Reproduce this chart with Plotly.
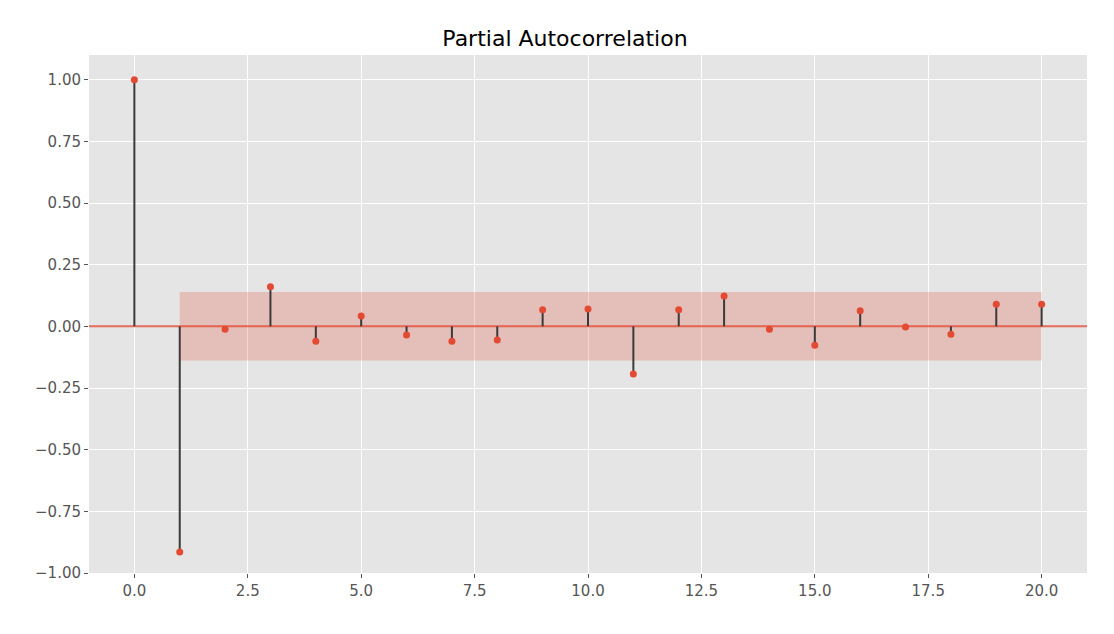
import plotly.graph_objects as go

# partial autocorrelation values, lags 0..20
lags = list(range(21))
pacf = [1.00, -0.915, -0.012, 0.160, -0.060, 0.042, -0.035, -0.060, -0.055,
        0.067, 0.070, -0.193, 0.067, 0.123, -0.012, -0.077, 0.063, -0.003,
        -0.032, 0.090, 0.090]
conf_half = 0.139  # half-width of the 95% band (lags 1..20)

RED = "#E24A33"

# stems: one line trace with gaps
stem_x, stem_y = [], []
for lag, v in zip(lags, pacf):
    stem_x += [lag, lag, None]
    stem_y += [0, v, None]

band_x = lags[1:]
fig = go.Figure()
fig.add_trace(go.Scatter(x=band_x, y=[-conf_half] * len(band_x), mode="lines",
                         line=dict(width=0), hoverinfo="skip", showlegend=False))
fig.add_trace(go.Scatter(x=band_x, y=[conf_half] * len(band_x), mode="lines",
                         line=dict(width=0), fill="tonexty",
                         fillcolor="rgba(226,74,51,0.25)", hoverinfo="skip",
                         showlegend=False))
fig.add_trace(go.Scatter(x=[-1, 21], y=[0, 0], mode="lines",
                         line=dict(color=RED, width=2), opacity=0.8,
                         hoverinfo="skip", showlegend=False))
fig.add_trace(go.Scatter(x=stem_x, y=stem_y, mode="lines",
                         line=dict(color="#3a3a3a", width=2),
                         hoverinfo="skip", showlegend=False))
fig.add_trace(go.Scatter(x=lags, y=pacf, mode="markers",
                         marker=dict(color=RED, size=7), showlegend=False))

axis_common = dict(showgrid=True, gridcolor="white", gridwidth=1, zeroline=False,
                   ticks="outside", ticklen=4, tickcolor="#555", showline=False,
                   tickfont=dict(family="DejaVu Sans", size=15, color="#555"))
# the page body adds an 8px offset, margins account for it
fig.update_layout(
    width=1114, height=634,
    title=dict(text="Partial Autocorrelation", x=0.5, xanchor="center",
               y=1 - 30 / 634, yanchor="middle",
               font=dict(family="DejaVu Sans", size=22, color="black")),
    plot_bgcolor="#E5E5E5", paper_bgcolor="white",
    margin=dict(l=81, r=35, t=47, b=69),
    xaxis=dict(range=[-1, 21], tickvals=[0, 2.5, 5, 7.5, 10, 12.5, 15, 17.5, 20],
               tickformat=".1f", **axis_common),
    yaxis=dict(range=[-1.0, 1.1], tickvals=[1, 0.75, 0.5, 0.25, 0, -0.25, -0.5, -0.75, -1],
               tickformat=".2f", **axis_common),
)

fig.write_html("out.html")
